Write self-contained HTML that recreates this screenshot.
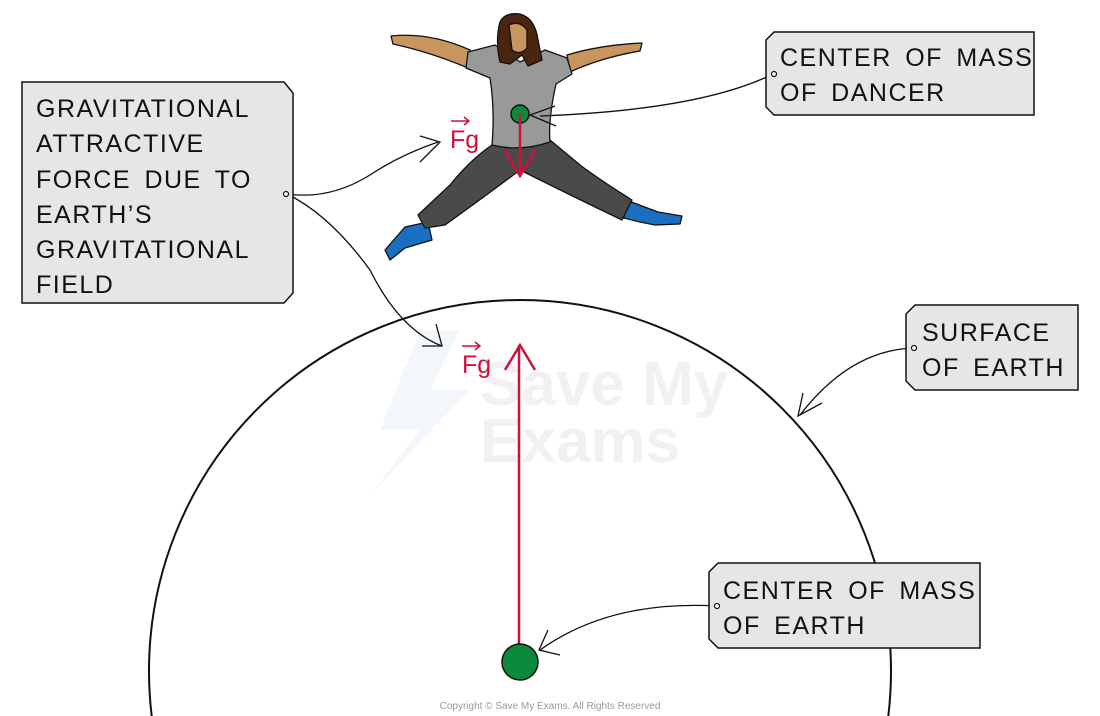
<!DOCTYPE html>
<html><head><style>
html,body{margin:0;padding:0;background:#fff;width:1100px;height:716px;overflow:hidden;}
svg{display:block;}
text{font-family:"Liberation Sans",sans-serif;}
.lbl{font-size:25px;fill:#111;letter-spacing:1.5px;word-spacing:5px;}
</style></head><body>
<svg width="1100" height="716" viewBox="0 0 1100 716" xmlns="http://www.w3.org/2000/svg" style="overflow:hidden">
<defs><clipPath id="c"><rect x="0" y="0" width="1100" height="716"/></clipPath></defs>
<g opacity="0.06" fill="#3060c0">
<polygon points="420,330 380,430 420,430 370,495 470,390 430,390 460,330"/>
</g>
<text x="480" y="405" font-size="62" font-weight="bold" fill="#000" opacity="0.05">Save My</text>
<text x="480" y="462" font-size="62" font-weight="bold" fill="#000" opacity="0.05">Exams</text>

<path d="M150,716 A371,371 0 1 1 890,716" transform="translate(0,-0)" fill="none" stroke="none"/>
<g clip-path="url(#c)"><circle cx="520" cy="671" r="371" fill="none" stroke="#111" stroke-width="2"/></g>

<g stroke="#111" stroke-width="1.3" stroke-linejoin="round">
<path d="M391,36 Q430,32 470,50 L468,68 Q430,52 393,44 Z" fill="#c9955f"/>
<path d="M567,55 Q600,45 642,43 L640,51 Q600,58 570,72 Z" fill="#c9955f"/>
<path d="M385,250 L405,227 L428,222 L432,240 L405,248 L390,260 Z" fill="#1a6fc0"/>
<path d="M626,200 L658,212 L682,216 L680,224 L655,225 L640,222 L624,218 Z" fill="#1a6fc0"/>
<path d="M492,145 Q470,160 450,185 L418,215 L425,228 L445,225 Q480,200 520,170 Q570,195 622,220 L632,200 Q600,180 580,165 L550,140 Q520,150 492,145 Z" fill="#4a4a4a"/>
<path d="M468,52 L495,45 L520,62 L545,50 L567,58 L572,74 L556,84 Q548,120 550,142 Q520,152 492,145 Q495,110 490,78 L466,68 Z" fill="#999"/>
<path d="M500,22 Q505,12 520,14 Q535,18 538,40 L542,60 L528,66 L522,55 L510,64 L500,62 Q495,40 500,22 Z" fill="#4a2510"/>
<path d="M509,25 Q520,20 527,30 L527,48 Q520,56 512,50 Z" fill="#c9955f"/>
</g>
<circle cx="520" cy="114" r="9" fill="#0a8a3a" stroke="#111" stroke-width="1.5"/>
<g stroke="#d0103a" stroke-width="2.5" fill="none">
<line x1="520" y1="114" x2="520" y2="176"/>
<polyline points="505,150 520,176 535,150"/>
<line x1="519" y1="345" x2="519" y2="650"/>
<polyline points="505,370 520,345 535,370"/>
</g>
<text x="450" y="148" font-size="25" fill="#d0103a">Fg</text>
<path d="M451,121 L469,121 M464,117 L469,121 L464,125" stroke="#d0103a" stroke-width="1.5" fill="none"/>
<text x="462" y="373" font-size="25" fill="#d0103a">Fg</text>
<path d="M462,346 L480,346 M475,342 L480,346 L475,350" stroke="#d0103a" stroke-width="1.5" fill="none"/>

<circle cx="520" cy="662" r="18" fill="#0a8a3a" stroke="#111" stroke-width="1.5"/>

<g stroke="#111" stroke-width="1.3" fill="none">
<path d="M287,194 Q330,200 370,175 Q400,155 438,142"/>
<polyline points="420,136 440,142 420,162"/>
<path d="M287,194 Q330,215 370,270 Q400,330 442,346"/>
<polyline points="436,324 442,346 422,346"/>
<path d="M773,74 Q700,110 540,116"/>
<polyline points="555,106 530,115 556,126"/>
<path d="M914,348 Q850,350 800,415"/>
<polyline points="803,393 798,416 822,403"/>
<path d="M717,606 Q610,600 540,650"/>
<polyline points="548,630 539,650 560,655"/>
</g>

<g fill="#e6e6e6" stroke="#111" stroke-width="1.5">
<path d="M22,82 L284,82 L293,93 L293,293 L284,303 L22,303 Z"/>
<path d="M774,32 L1034,32 L1034,115 L774,115 L766,107 L766,40 Z"/>
<path d="M915,305 L1078,305 L1078,390 L915,390 L906,381 L906,314 Z"/>
<path d="M718,563 L980,563 L980,648 L718,648 L709,639 L709,572 Z"/>
</g>
<g fill="#fff" stroke="#111" stroke-width="1.2">
<circle cx="286" cy="194" r="2.5"/><circle cx="774" cy="74" r="2.5"/>
<circle cx="914" cy="348" r="2.5"/><circle cx="717" cy="606" r="2.5"/>
</g>
<text class="lbl" x="36" y="117">GRAVITATIONAL</text>
<text class="lbl" x="36" y="152">ATTRACTIVE</text>
<text class="lbl" x="36" y="188">FORCE DUE TO</text>
<text class="lbl" x="36" y="223">EARTH’S</text>
<text class="lbl" x="36" y="258">GRAVITATIONAL</text>
<text class="lbl" x="36" y="293">FIELD</text>
<text class="lbl" x="780" y="66">CENTER OF MASS</text>
<text class="lbl" x="780" y="101">OF DANCER</text>
<text class="lbl" x="922" y="341">SURFACE</text>
<text class="lbl" x="922" y="376">OF EARTH</text>
<text class="lbl" x="723" y="599">CENTER OF MASS</text>
<text class="lbl" x="723" y="634">OF EARTH</text>
<text x="550" y="709" font-size="10" fill="#999" text-anchor="middle">Copyright © Save My Exams. All Rights Reserved</text>
</svg>
</body></html>
